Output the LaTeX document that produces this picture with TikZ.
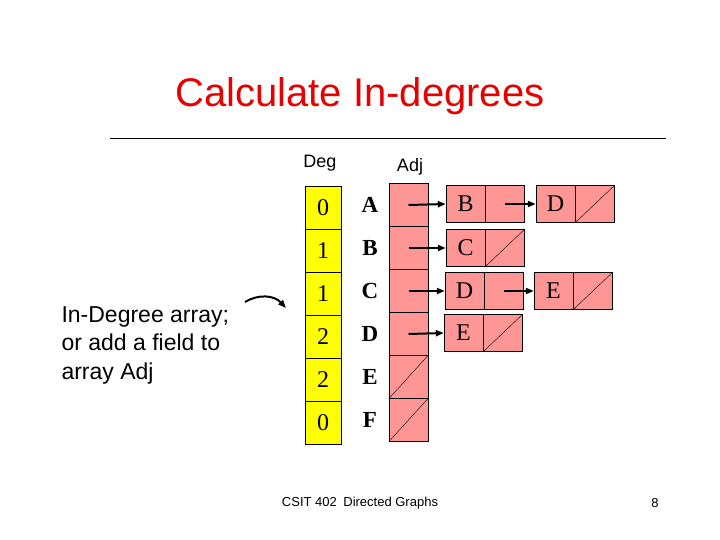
\documentclass[tikz,border=0pt]{standalone}
\usepackage{fontspec}
\setmainfont{Liberation Serif}
\newfontfamily\arial{Liberation Sans}
\usetikzlibrary{arrows.meta}
\definecolor{pinkc}{RGB}{255,150,150}
\definecolor{yel}{RGB}{255,255,0}
\definecolor{titlered}{RGB}{230,0,0}
\begin{document}
\begin{tikzpicture}[x=1pt,y=-1pt,
  pk/.style={draw,fill=pinkc,minimum width=39pt,minimum height=37pt,inner sep=0pt,font=\fontsize{24}{26}\selectfont},
  yc/.style={draw,fill=yel,minimum width=36pt,minimum height=43pt,inner sep=0pt,font=\fontsize{24}{26}\selectfont},
  pc/.style={draw,fill=pinkc,minimum width=39pt,minimum height=43pt,inner sep=0pt},
  lab/.style={font=\bfseries\fontsize{23}{26}\selectfont},
  ar/.style={-{Triangle[length=8pt,width=6pt]},line width=2pt}]
\useasboundingbox (0,0) rectangle (720,540);
\node[text=titlered,font=\arial\fontsize{40}{44}\selectfont] (title) at (360,96) {Calculate In-degrees};
\coordinate (l1) at (110,138); \coordinate (l2) at (666,138);
\draw (l1) -- (l2);
\node[font=\arial\fontsize{18}{20}\selectfont] (deg) at (320,163) {Deg};
\node[font=\arial\fontsize{18}{20}\selectfont] (adj) at (410,167) {Adj};
\foreach \v/\l [count=\i from 0] in {0/A,1/B,1/C,2/D,2/E,0/F}{
  \node[yc] (y\i) at (323,{207.5+43*\i}) {\v};
  \node[lab] (L\i) at (370,{205+43*\i}) {\l};
  \node[pc] (p\i) at (408.5,{205+43*\i}) {};
}
\draw (p4.south west) -- (p4.north east);
\draw (p5.south west) -- (p5.north east);
% lists
\node[pk] (a1) at (465.5,204) {B};
\node[pk,anchor=west] (a2) at (a1.east) {};
\node[pk] (a3) at (555.5,204) {D};
\node[pk,anchor=west] (a4) at (a3.east) {};
\draw (a4.south west) -- (a4.north east);
\node[pk] (b1) at (465.5,248) {C};
\node[pk,anchor=west] (b2) at (b1.east) {};
\draw (b2.south west) -- (b2.north east);
\node[pk] (c1) at (464.5,291) {D};
\node[pk,anchor=west] (c2) at (c1.east) {};
\node[pk] (c3) at (553.5,291) {E};
\node[pk,anchor=west] (c4) at (c3.east) {};
\draw (c4.south west) -- (c4.north east);
\node[pk] (d1) at (463.5,333) {E};
\node[pk,anchor=west] (d2) at (d1.east) {};
\draw (d2.south west) -- (d2.north east);
\draw[ar] (p0.center) -- (a1.west);
\draw[ar] (p1.center) -- (b1.west);
\draw[ar] (p2.center) -- (c1.west);
\draw[ar] (p3.center) -- (d1.west);
\draw[ar] (a2.center) -- (a3.west);
\draw[ar] (c2.center) -- (c3.west);
\node[font=\arial\fontsize{23}{28.5}\selectfont,align=left,anchor=north west] (txt) at (58,303) {In-Degree array;\\or add a field to\\array Adj};
\coordinate (cs) at (245,302);
\coordinate (ce) at (286,308);
\draw[ar,line width=2pt] (cs) .. controls (258,294) and (274,295) .. (ce);
\node[font=\arial\fontsize{13}{15}\selectfont] (foot) at (360,503) {CSIT 402\enspace Directed Graphs};
\node[font=\arial\fontsize{13}{15}\selectfont] (pg) at (655,503) {8};
\end{tikzpicture}
\end{document}
